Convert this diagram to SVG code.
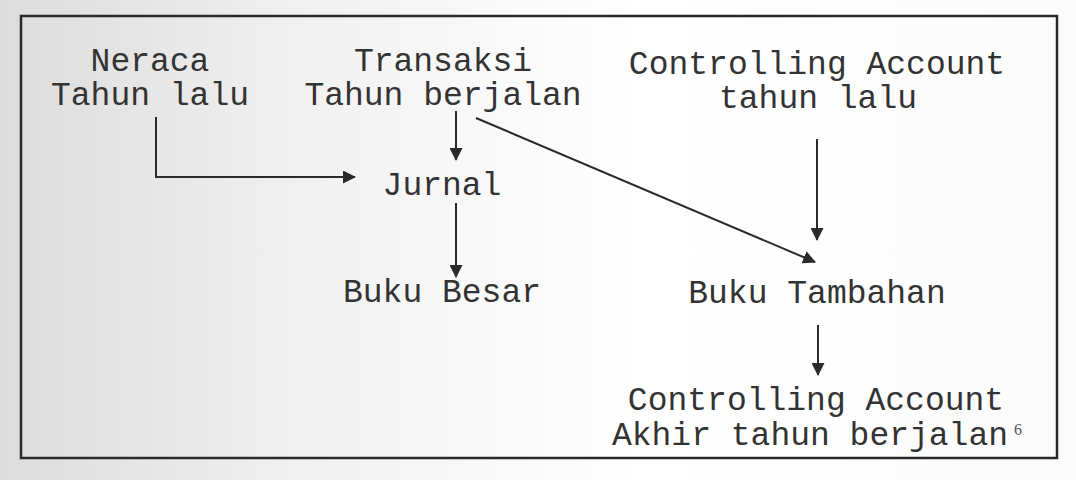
<svg xmlns="http://www.w3.org/2000/svg" width="1076" height="480" viewBox="0 0 1076 480">
  <defs>
    <linearGradient id="bg" x1="0" y1="0" x2="1" y2="0">
      <stop offset="0" stop-color="#dcdcdc"/>
      <stop offset="0.3" stop-color="#f2f2f2"/>
      <stop offset="0.6" stop-color="#ffffff"/>
      <stop offset="1" stop-color="#fbfbfb"/>
    </linearGradient>
    <marker id="ah" viewBox="0 0 13 13" refX="12" refY="6.5" markerWidth="13" markerHeight="13" markerUnits="userSpaceOnUse" orient="auto">
      <path d="M0,0 L13,6.5 L0,13 Z" fill="#2a2a2a"/>
    </marker>
    <style>
      .t { font-family: "Liberation Mono", "Courier New", monospace; font-size: 33px; fill: #333; text-anchor: middle; }
      .sup { font-family: "Liberation Serif", "Times New Roman", serif; font-size: 16px; fill: #555; text-anchor: middle; }
      .c { stroke: #2a2a2a; stroke-width: 2; fill: none; marker-end: url(#ah); }
    </style>
  </defs>
  <rect x="0" y="0" width="1076" height="480" fill="url(#bg)"/>
  <rect id="frame" x="21" y="16" width="1036" height="442" fill="none" stroke="#2a2a2a" stroke-width="2.5"/>

  <g id="neraca">
    <text class="t" x="150" y="71">Neraca</text>
    <text class="t" x="150" y="105">Tahun lalu</text>
  </g>
  <g id="transaksi">
    <text class="t" x="443" y="71">Transaksi</text>
    <text class="t" x="443" y="105">Tahun berjalan</text>
  </g>
  <g id="controlling-lalu">
    <text class="t" x="817" y="74">Controlling Account</text>
    <text class="t" x="818" y="108">tahun lalu</text>
  </g>
  <g id="jurnal">
    <text class="t" x="442" y="195">Jurnal</text>
  </g>
  <g id="buku-besar">
    <text class="t" x="442" y="302">Buku Besar</text>
  </g>
  <g id="buku-tambahan">
    <text class="t" x="817" y="303">Buku Tambahan</text>
  </g>
  <g id="controlling-akhir">
    <text class="t" x="816" y="410">Controlling Account</text>
    <text class="t" x="810" y="445">Akhir tahun berjalan</text>
    <text class="sup" x="1018" y="435">6</text>
  </g>

  <g id="connectors">
    <path class="c" d="M156,117 V177 H355"/>
    <path class="c" d="M456,111 V160"/>
    <path class="c" d="M456,203 V277"/>
    <path class="c" d="M476,118 L815,262"/>
    <path class="c" d="M817,139 V240"/>
    <path class="c" d="M818,325 V375"/>
  </g>
</svg>
